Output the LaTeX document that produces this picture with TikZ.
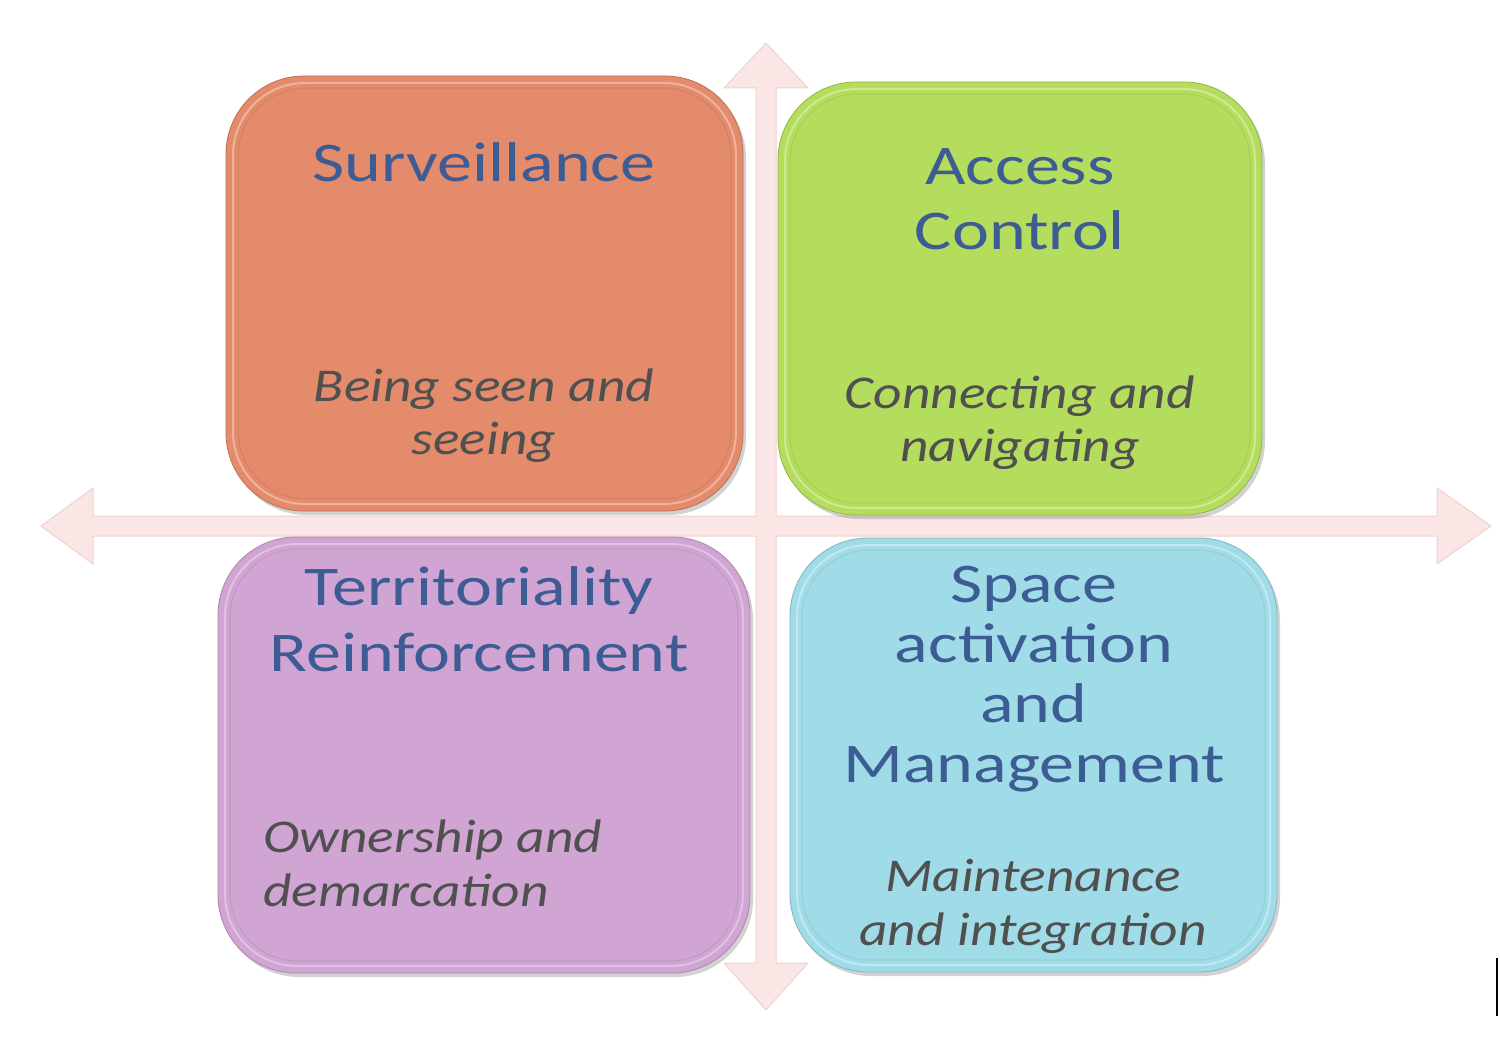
\documentclass[tikz,border=0pt]{standalone}
\usepackage{fontspec}
\setmainfont{Carlito}
\newfontfamily\titlefont[FakeStretch=1.25]{Carlito}
\newfontfamily\subfont[FakeStretch=1.18,ItalicFont={Carlito Italic}]{Carlito}
\usetikzlibrary{shadows}
\definecolor{cOrange}{RGB}{227,139,106}
\definecolor{cGreen}{RGB}{181,221,93}
\definecolor{cPurple}{RGB}{208,164,211}
\definecolor{cBlue}{RGB}{160,220,232}
\definecolor{cTitle}{RGB}{61,92,148}
\definecolor{cSub}{RGB}{80,80,80}
\definecolor{cArrow}{RGB}{250,230,228}
\definecolor{cArrowEdge}{RGB}{238,210,208}
\tikzset{
  quad/.style={rounded corners=78pt, draw=#1!82!black, line width=0.8pt, fill=#1,
    drop shadow={shadow xshift=3pt, shadow yshift=-4pt, opacity=0.35}},
  bevel/.style={rounded corners=68pt, draw=#1!85!black, line width=1.2pt, draw opacity=0.4},
  hilite/.style={rounded corners=72pt, draw=white, line width=2pt, draw opacity=0.35},
  title/.style={text=cTitle, font=\titlefont\fontsize{56}{#1}\selectfont, align=center, inner sep=0pt, anchor=base},
  title/.default=60,
  sub/.style={text=cSub, font=\subfont\itshape\fontsize{47}{54}\selectfont, align=center, inner sep=0pt, anchor=base},
  crossarrow/.style={fill=cArrow, draw=cArrowEdge, line width=1pt, line join=miter}
}
\begin{document}
\begin{tikzpicture}[x=1pt, y=-1pt]
\useasboundingbox (0,0) rectangle (1500,1040);
\fill[white] (0,0) rectangle (1500,1040);
% cross arrows
\path[crossarrow] (766,43) -- (808,88) -- (776,88) -- (776,516) -- (1437,516) -- (1437,488)
  -- (1491,526) -- (1437,564) -- (1437,536) -- (776,536) -- (776,963) -- (808,963)
  -- (766,1010) -- (724,963) -- (756,963) -- (756,536) -- (93,536) -- (93,564)
  -- (41,526) -- (93,488) -- (93,516) -- (756,516) -- (756,88) -- (724,88) -- cycle;
% boxes
\draw[quad=cOrange] (226,76) rectangle (743,511);
\draw[hilite] (233,83) rectangle (736,504);
\draw[bevel=cOrange] (238,88) rectangle (731,499);
\draw[quad=cGreen] (778,82) rectangle (1262,515);
\draw[hilite] (785,89) rectangle (1255,508);
\draw[bevel=cGreen] (790,94) rectangle (1250,503);
\draw[quad=cPurple] (218,537) rectangle (750,973);
\draw[hilite] (225,544) rectangle (743,966);
\draw[bevel=cPurple] (230,549) rectangle (738,961);
\draw[quad=cBlue] (790,538) rectangle (1277,972);
\draw[hilite] (797,545) rectangle (1270,965);
\draw[bevel=cBlue] (802,550) rectangle (1265,960);
% stray mark
\draw[line width=2.5pt, black] (1497,958) -- (1497,1016);
% texts (anchor = baseline of last line)
\node[title] (t1) at (484,182) {Surveillance};
\node[sub] (s1) at (484,455) {Being seen and\\seeing};
\node[title=65] (t2) at (1020,250) {Access\\Control};
\node[sub] (s2) at (1020,462) {Connecting and\\navigating};
\node[title=66] (t3) at (479,671) {Territoriality\\Reinforcement};
\node[sub, align=left, anchor=base west] (s3) at (263,906) {Ownership and\\demarcation};
\node[title=60] (t4) at (1034,782) {Space\\activation\\and\\Management};
\node[sub] (s4) at (1033,945) {Maintenance\\and integration};
\end{tikzpicture}
\end{document}
